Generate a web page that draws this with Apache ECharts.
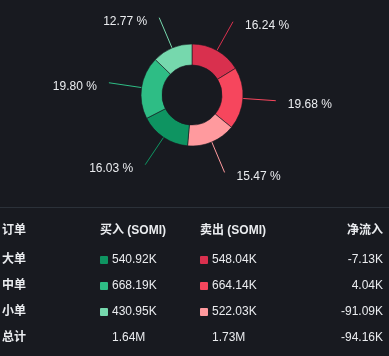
<!DOCTYPE html>
<html><head><meta charset="utf-8">
<script src="https://cdn.jsdelivr.net/npm/echarts@6/dist/echarts.min.js"></script>
<style>html,body{margin:0;padding:0;background:#181a20;}#c{width:389px;height:356px;}</style>
</head><body><div id="c"></div>
<script>
var sliceNames = ['大单卖出','中单卖出','小单卖出','大单买入','中单买入','小单买入'];
var sliceValues = [548.04, 664.14, 522.03, 540.92, 668.19, 430.95];
var sliceColors = ['#d9304e','#f6465d','#ff9a9e','#0e9461','#2ebd85','#76d8ad'];

var headers = ['订单','买入 (SOMI)','卖出 (SOMI)','净流入'];
var rowNames = ['大单','中单','小单','总计'];
var buyText = ['540.92K','668.19K','430.95K','1.64M'];
var sellText = ['548.04K','664.14K','522.03K','1.73M'];
var netText = ['-7.13K','4.04K','-91.09K','-94.16K'];
var buyColors = ['#0e9461','#2ebd85','#76d8ad'];
var sellColors = ['#d9304e','#f6465d','#ff9a9e'];

var FONT = '"Liberation Sans", Arial, "Noto Sans CJK SC", sans-serif';
var TXT = '#eaecef';
var total = sliceValues.reduce(function(a,b){return a+b;},0);
var chart = echarts.init(document.getElementById('c'));

var graphics = [];
graphics.push({type:'rect', shape:{x:0,y:207,width:389,height:1}, style:{fill:'#2b3139'}, silent:true});
var hy = 231;
var cols = [2, 100, 200, 383];
headers.forEach(function(h,i){
  graphics.push({type:'text', x:cols[i], y:hy, style:{text:h, fill:TXT, font:'bold 12px '+FONT, textAlign: i===3?'right':'left', textVerticalAlign:'middle'}});
});
var rowY = [260, 286, 312, 338];
rowNames.forEach(function(r,i){
  var y = rowY[i];
  graphics.push({type:'text', x:2, y:y, style:{text:r, fill:TXT, font:'bold 12px '+FONT, textVerticalAlign:'middle'}});
  if (i < 3) {
    graphics.push({type:'rect', shape:{x:100,y:y-4,width:8,height:8,r:1}, style:{fill:buyColors[i]}});
    graphics.push({type:'rect', shape:{x:200,y:y-4,width:8,height:8,r:1}, style:{fill:sellColors[i]}});
  }
  graphics.push({type:'text', x:112, y:y, style:{text:buyText[i], fill:TXT, font:'12px '+FONT, textVerticalAlign:'middle'}});
  graphics.push({type:'text', x:212, y:y, style:{text:sellText[i], fill:TXT, font:'12px '+FONT, textVerticalAlign:'middle'}});
  graphics.push({type:'text', x:383, y:y, style:{text:netText[i], fill:TXT, font:'12px '+FONT, textAlign:'right', textVerticalAlign:'middle'}});
});

chart.setOption({
  backgroundColor:'#181a20',
  animation:false,
  series:[{
    type:'pie',
    center:[192,95],
    radius:[30,51],
    startAngle:90,
    clockwise:true,
    avoidLabelOverlap:false,
    itemStyle:{borderColor:'#181a20', borderWidth:0.6},
    label:{show:true, formatter:function(p){ return (p.value/total*100).toFixed(2)+' %'; },
      color:'#eaecef', fontSize:12, fontFamily:FONT, distanceToLabelLine:12},
    labelLayout:{dy:4},
    labelLine:{show:true, length:33, length2:0, lineStyle:{width:1}},
    data: sliceValues.map(function(v,i){
      return {name:sliceNames[i], value:v, itemStyle:{color:sliceColors[i]}};
    })
  }],
  graphic: graphics
});
</script></body></html>
